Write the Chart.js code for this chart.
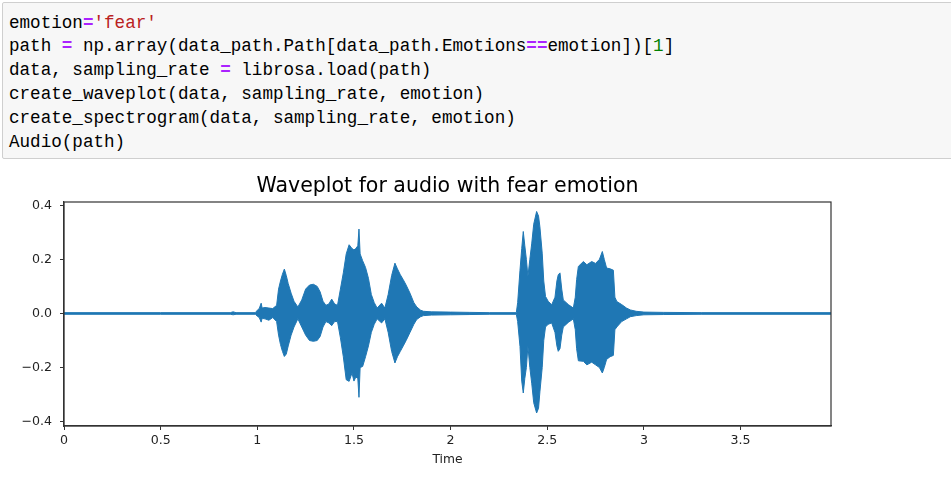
<!DOCTYPE html>
<html>
<head>
<meta charset="utf-8">
<title>Waveplot for audio with fear emotion</title>
<script src="https://cdn.jsdelivr.net/npm/chart.js@4.4.1/dist/chart.umd.min.js"></script>
<style>
  body { margin: 0; background: #fff; width: 951px; height: 483px; overflow: hidden; position: relative; }
  .cell {
    position: absolute; left: 2px; top: 2px; width: 960px; height: 155px;
    background: #f7f7f7; border: 1px solid #cfcfcf; border-radius: 2px;
  }
  pre {
    position: absolute; left: 9px; top: 11.7px; margin: 0;
    font-family: "Liberation Mono", "DejaVu Sans Mono", monospace;
    font-size: 17.6px; line-height: 23.8px; color: #000;
  }
  .o { color: #aa22ff; font-weight: bold; }
  .s { color: #ba2121; }
  .n { color: #008000; }
  #wrap { position: absolute; left: 0; top: 160px; width: 951px; height: 323px; }
</style>
</head>
<body>
<div class="cell"></div>
<pre>emotion<span class="o">=</span><span class="s">'fear'</span>
path <span class="o">=</span> np.array(data_path.Path[data_path.Emotions<span class="o">==</span>emotion])[<span class="n">1</span>]
data, sampling_rate <span class="o">=</span> librosa.load(path)
create_waveplot(data, sampling_rate, emotion)
create_spectrogram(data, sampling_rate, emotion)
Audio(path)</pre>
<div id="wrap"><canvas id="wave" width="951" height="323"></canvas></div>
<script>
// envelope of the waveform (seconds / amplitude)
const times = [
  0.00, 0.50, 0.86, 0.875, 0.89, 0.99, 1.00, 1.01, 1.02, 1.025, 1.04, 1.06, 1.08,
  1.10, 1.11, 1.12, 1.13, 1.14, 1.15, 1.16, 1.175, 1.19, 1.21, 1.23, 1.25, 1.27,
  1.29, 1.31, 1.325, 1.34, 1.355, 1.37, 1.385, 1.40, 1.415, 1.43, 1.445, 1.46,
  1.475, 1.49, 1.50, 1.51, 1.52, 1.526, 1.532, 1.545, 1.56, 1.575, 1.59, 1.605,
  1.62, 1.643, 1.66, 1.677, 1.695, 1.712, 1.725, 1.74, 1.755, 1.77, 1.79, 1.81,
  1.825, 1.845, 1.86, 1.90, 2.00, 2.10, 2.20, 2.34, 2.347, 2.359, 2.368, 2.376,
  2.384, 2.392, 2.40, 2.41, 2.42, 2.43, 2.445, 2.455, 2.462, 2.474, 2.482, 2.491,
  2.505, 2.523, 2.54, 2.55, 2.557, 2.566, 2.575, 2.583, 2.609, 2.635, 2.645,
  2.652, 2.661, 2.687, 2.705, 2.73, 2.75, 2.77, 2.785, 2.795, 2.807, 2.825,
  2.842, 2.85, 2.86, 2.885, 2.91, 2.93, 2.96, 3.00, 3.10, 3.30, 3.968
];
const upper = [
  0.003, 0.003, 0.003, 0.006, 0.003, 0.003, 0.012, 0.018, 0.038, 0.020, 0.022, 0.020, 0.018,
  0.030, 0.090, 0.120, 0.145, 0.164, 0.140, 0.110, 0.075, 0.045, 0.024, 0.050, 0.090, 0.105,
  0.108, 0.100, 0.080, 0.045, 0.030, 0.035, 0.053, 0.035, 0.030, 0.090, 0.150, 0.220,
  0.254, 0.240, 0.235, 0.240, 0.250, 0.312, 0.220, 0.195, 0.170, 0.130, 0.070, 0.040,
  0.020, 0.038, 0.020, 0.070, 0.140, 0.186, 0.165, 0.143, 0.125, 0.105, 0.075, 0.040,
  0.024, 0.012, 0.008, 0.006, 0.005, 0.004, 0.003, 0.003, 0.040, 0.160, 0.240, 0.303,
  0.250, 0.200, 0.137, 0.200, 0.260, 0.330, 0.377, 0.360, 0.320, 0.223, 0.120, 0.063,
  0.045, 0.032, 0.060, 0.120, 0.143, 0.150, 0.090, 0.050, 0.033, 0.020, 0.060,
  0.125, 0.174, 0.192, 0.180, 0.192, 0.185, 0.200, 0.229, 0.200, 0.168, 0.165,
  0.160, 0.060, 0.044, 0.033, 0.020, 0.013, 0.008, 0.005, 0.004, 0.003, 0.003
];
const lower = [
  -0.003, -0.003, -0.003, -0.005, -0.003, -0.003, -0.010, -0.015, -0.032, -0.018, -0.020, -0.025, -0.015,
  -0.030, -0.080, -0.115, -0.140, -0.159, -0.150, -0.120, -0.080, -0.050, -0.020, -0.050, -0.080, -0.100,
  -0.103, -0.100, -0.085, -0.050, -0.030, -0.035, -0.045, -0.030, -0.030, -0.090, -0.160, -0.245,
  -0.251, -0.220, -0.250, -0.235, -0.240, -0.310, -0.200, -0.196, -0.160, -0.120, -0.070, -0.040,
  -0.020, -0.035, -0.020, -0.070, -0.140, -0.183, -0.160, -0.140, -0.120, -0.100, -0.070, -0.040,
  -0.022, -0.012, -0.008, -0.006, -0.005, -0.004, -0.003, -0.003, -0.030, -0.122, -0.250, -0.294,
  -0.240, -0.200, -0.120, -0.200, -0.260, -0.330, -0.368, -0.350, -0.290, -0.200, -0.100, -0.050,
  -0.040, -0.035, -0.070, -0.120, -0.140, -0.130, -0.080, -0.050, -0.033, -0.020, -0.060,
  -0.130, -0.175, -0.177, -0.190, -0.180, -0.190, -0.200, -0.220, -0.200, -0.170, -0.160,
  -0.155, -0.060, -0.050, -0.030, -0.020, -0.012, -0.008, -0.005, -0.004, -0.003, -0.003
];

const xTicks = [0, 0.5, 1, 1.5, 2, 2.5, 3, 3.5];
const xTickLabels = ['0', '0.5', '1', '1.5', '2', '2.5', '3', '3.5'];
const yTicks = [-0.4, -0.2, 0, 0.2, 0.4];
const yTickLabels = ['\u22120.4', '\u22120.2', '0.0', '0.2', '0.4'];

const blue = '#1f77b4';
const spine = '#333333';
const tickFont = { family: 'DejaVu Sans', size: 12.6 };

// top and right spines (matplotlib box)
const frame = {
  id: 'frame',
  afterDraw(chart) {
    const { ctx, chartArea: a } = chart;
    ctx.save();
    ctx.strokeStyle = spine;
    ctx.lineWidth = 1.2;
    ctx.strokeRect(a.left, a.top, a.right - a.left, a.bottom - a.top);
    ctx.restore();
  }
};

const config = {
  type: 'line',
  data: {
    datasets: [{
      data: times.map((t, i) => ({ x: t, y: upper[i] })),
      borderColor: blue,
      borderWidth: 1,
      pointRadius: 0,
      fill: false
    }, {
      data: times.map((t, i) => ({ x: t, y: lower[i] })),
      borderColor: blue,
      backgroundColor: blue,
      borderWidth: 1,
      pointRadius: 0,
      fill: '-1'
    }]
  },
  options: {
    responsive: false,
    animation: false,
    devicePixelRatio: 1,
    layout: { padding: { left: 0, right: 120, top: 0, bottom: 0 } },
    plugins: {
      legend: { display: false },
      tooltip: { enabled: false },
      title: {
        display: true,
        text: 'Waveplot for audio with fear emotion',
        fullSize: false,
        color: '#000',
        font: { family: 'DejaVu Sans', size: 20.5, weight: 'normal', lineHeight: 1.2 },
        padding: { top: 14.2, bottom: 3.2 }
      }
    },
    scales: {
      x: {
        type: 'linear',
        min: 0,
        max: 3.968,
        afterFit(scale) { scale.height = 57; },
        afterBuildTicks(scale) { scale.ticks = xTicks.map(v => ({ value: v })); },
        border: { display: true, color: spine, width: 1.2 },
        grid: { drawOnChartArea: false, drawTicks: true, tickLength: 4, color: spine },
        ticks: {
          color: '#222', font: tickFont, padding: 3, maxRotation: 0,
          callback: (v, i) => xTickLabels[i]
        },
        title: {
          display: true, text: 'Time', color: '#222',
          font: { family: 'DejaVu Sans', size: 12.3 },
          padding: { top: 0, bottom: 15.5 }
        }
      },
      y: {
        min: -0.416,
        max: 0.412,
        afterFit(scale) { scale.width = 64; },
        afterBuildTicks(scale) { scale.ticks = yTicks.map(v => ({ value: v })); },
        border: { display: true, color: spine, width: 1.2 },
        grid: { drawOnChartArea: false, drawTicks: true, tickLength: 4, color: spine },
        ticks: {
          color: '#222', font: tickFont, padding: 8,
          callback: (v, i) => yTickLabels[i]
        }
      }
    }
  },
  plugins: [frame]
};

window.onload = function () {
  const ctx = document.getElementById('wave').getContext('2d');
  new Chart(ctx, config);
};
</script>
</body>
</html>
